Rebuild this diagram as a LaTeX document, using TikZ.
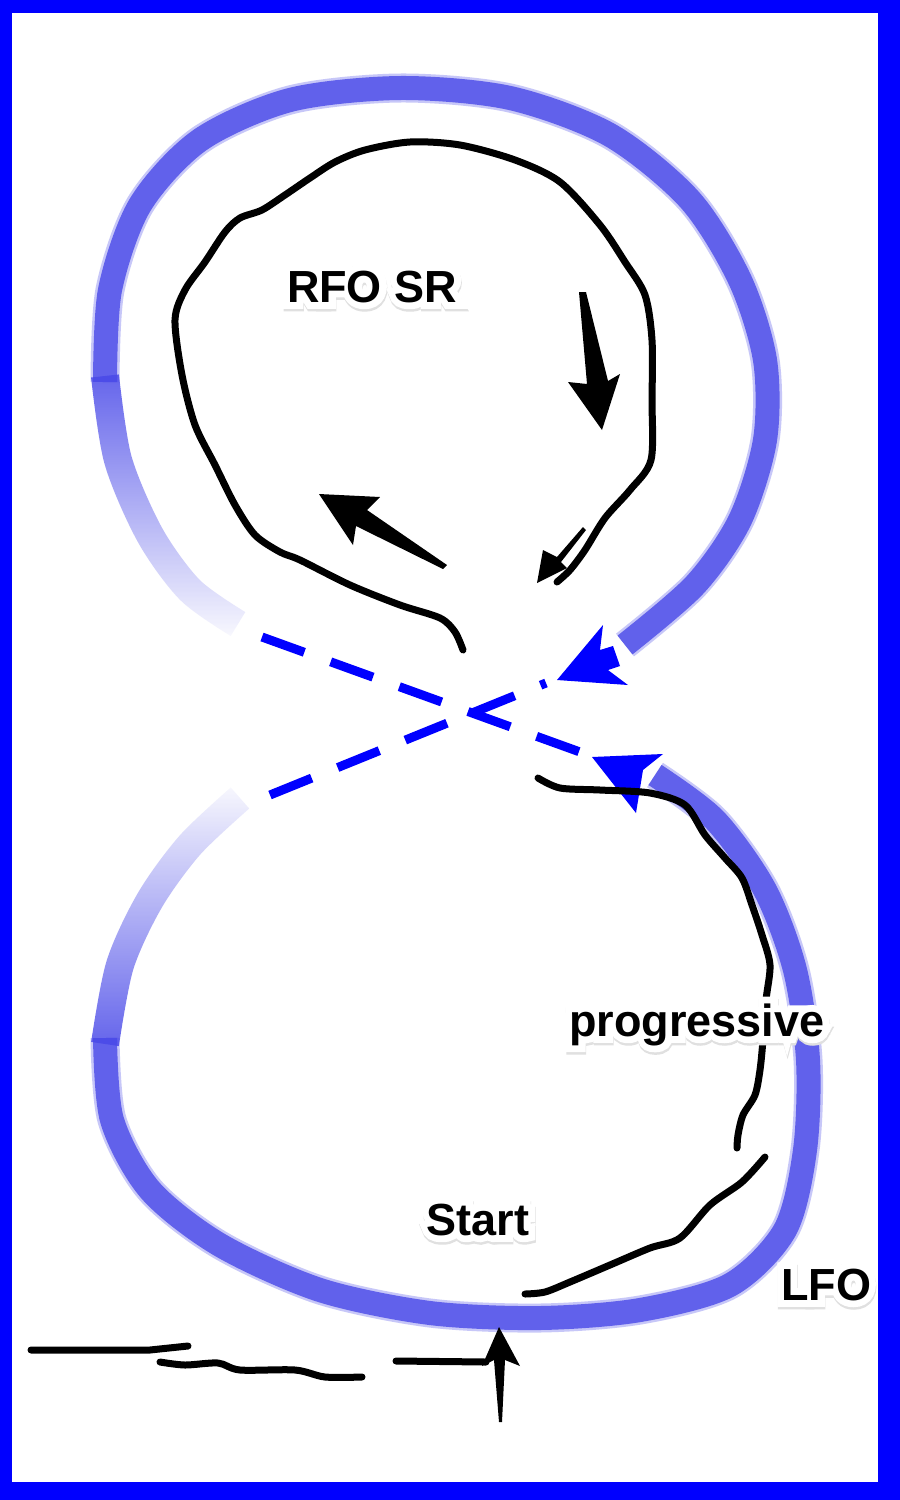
\documentclass[tikz,border=0pt]{standalone}
\usepackage{fontspec}
\setmainfont{Liberation Sans}
\newfontfamily\halofont{Liberation Sans}[BoldFeatures={FakeBold=30}]
\usepackage{xcolor}
\usetikzlibrary{calc,fadings}

\definecolor{frameblue}{RGB}{0,0,255}
\definecolor{brushblue}{RGB}{72,72,232}

\tikzfading[name=tailup, top color=transparent!12, bottom color=transparent!97]
\tikzfading[name=taildown, top color=transparent!97, bottom color=transparent!12]

\tikzset{
  brush/.style={line width=29pt, draw=brushblue, draw opacity=0.3, line cap=butt, line join=round,
    postaction={draw=brushblue, draw opacity=0.8, line width=24pt}},
  tail/.style={line width=28pt, draw=brushblue, line cap=butt, line join=round},
  xdash/.style={line width=9pt, draw=frameblue, dash pattern=on 45pt off 28pt},
  pen/.style={line width=7pt, line cap=round, line join=round},
  lbl/.style={font=\bfseries\fontsize{45}{50}\selectfont, inner sep=0pt, anchor=base},
  halo/.style={lbl, font=\halofont\bfseries\fontsize{45}{50}\selectfont}
}

% label with white halo and soft shadow
\newcommand{\halolabel}[3]{%
  \node[halo, text=black!12] at ($(#2)+(0.5pt,-2.5pt)$) {#3};
  \node[halo, text=white] at (#2) {#3};
  \node[lbl] (#1) at (#2) {#3};
}

\begin{document}
\begin{tikzpicture}[x=1pt,y=-1pt]
    % Frame
    \fill[frameblue] (0,0) rectangle (900,1500);
    \fill[white] (12,13) rectangle (878,1482);

    % Upper loop (brush)
    \draw[tail, path fading=tailup] plot[smooth] coordinates {(105,376) (118,460) (150,535) (190,590) (238,624)};
    \draw[brush] plot[smooth] coordinates {(105,382) (110,290) (140,205) (200,140) (290,100) (400,88)
      (510,98) (610,135) (690,200) (740,280) (765,360) (765,440) (740,520) (695,585) (625,645)};
    \fill[frameblue] (557,680) -- (603,625) -- (600,650) -- (613,646) -- (620,666) -- (608,670) -- (628,685) -- cycle;

    % Lower loop (brush)
    \draw[tail, path fading=taildown] plot[smooth] coordinates {(240,798) (190,845) (150,900) (120,965) (105,1044)};
    \draw[brush] plot[smooth] coordinates {(105,1038) (112,1120) (150,1190) (220,1245) (320,1290)
      (430,1313) (540,1318) (640,1310) (730,1285) (785,1230) (805,1150) (808,1060) (795,970)
      (765,890) (715,820) (655,775)};
    \fill[frameblue] (592,757) -- (663,754) -- (643,770) -- (636,813) -- cycle;

    % Crossing (dashed)
    \coordinate (xa) at (262,637);
    \coordinate (xb) at (580,752);
    \coordinate (ya) at (270,795);
    \coordinate (yb) at (546,683);
    \draw[xdash] (xa) -- (xb);
    \draw[xdash] (ya) -- (yb);

    % RFO SR loop
    \draw[pen] plot[smooth] coordinates {(463,650) (455,632) (440,618) (400,605) (350,585) (300,560)
      (280,552) (255,535) (235,505) (215,465) (195,425) (182,375) (175,320) (185,290) (205,262)
      (225,232) (240,218) (262,210) (285,195) (310,178) (335,162) (365,150) (410,142) (460,145)
      (515,160) (560,182) (600,225) (625,262) (645,295) (652,340) (652,400) (651,460) (630,490)
      (605,518) (585,550) (570,570) (557,582)};
    \fill (579,292) -- (587,384) -- (568,382) -- (602,430) -- (620,374) -- (608,381) -- (586,292) -- cycle;
    \fill (583,527) -- (557,557) -- (543,550) -- (537,583) -- (567,568) -- (561,562) -- (586,530) -- cycle;
    \fill (319,494) -- (380,497) -- (367,510) -- (447,565) -- (443,569) -- (356,526) -- (353,545) -- cycle;

    % Progressive path
    \draw[pen] plot[smooth] coordinates {(538,778) (560,788) (600,790) (650,793) (685,805) (705,835)
      (725,858) (742,878) (752,905) (762,935) (770,965) (766,1000) (763,1040) (760,1070) (755,1095)
      (743,1115) (738,1135) (737,1148)};
    \draw[pen] plot[smooth] coordinates {(765,1157) (742,1182) (710,1205) (680,1238) (650,1248)
      (610,1265) (570,1282) (545,1292) (525,1294)};

    % Baseline strokes and start arrow
    \draw[pen] (31,1350) -- (150,1350) -- (188,1346);
    \draw[pen] plot[smooth] coordinates {(160,1362) (185,1365) (218,1363) (240,1370) (295,1370) (325,1377) (362,1377)};
    \draw[pen] (396,1361) -- (486,1362);
    \fill (499,1327) -- (520,1366) -- (505,1360) -- (502,1422) -- (499,1422) -- (494,1360) -- (482,1366) -- cycle;

    % Labels
    \halolabel{rfo}{372,302}{RFO SR}
    \halolabel{prog}{697,1036}{progressive}
    \halolabel{start}{478,1235}{Start}
    \halolabel{lfo}{826,1300}{LFO}
\end{tikzpicture}
\end{document}
